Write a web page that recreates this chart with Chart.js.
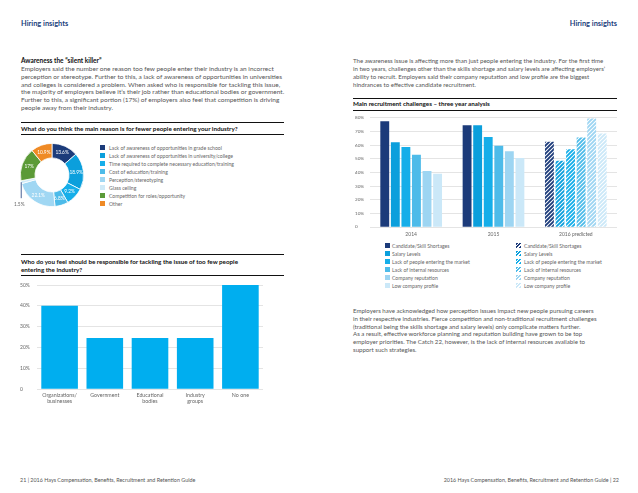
<!DOCTYPE html>
<html>
<head>
<meta charset="utf-8">
<script src="https://cdn.jsdelivr.net/npm/chart.js@4.4.1/dist/chart.umd.min.js"></script>
<style>
    body {
        margin: 0;
        width: 638px;
        height: 493px;
        position: relative;
        overflow: hidden;
        background: #fff;
        font-family: Lato, "Liberation Sans", sans-serif;
        color: #555;
    }
    .abs { position: absolute; white-space: nowrap; }
    .head { font-weight: bold; color: #21417c; font-size: 7.4px; line-height: 10px; }
    .para { font-size: 6.5px; line-height: 7.85px; }
    .para.rt { font-size: 6.1px; }
    .para b { color: #111; }
    .qtitle { font-weight: bold; color: #111; font-size: 6.25px; line-height: 8px; }
    .rule { position: absolute; height: 0; border-top: 1px solid #111; }
    .foot { font-size: 5.4px; line-height: 7px; color: #555; }
    .lg { position: absolute; white-space: nowrap; font-size: 5.1px; line-height: 6px; color: #666; }
    .sw { position: absolute; width: 5px; height: 5px; }
    canvas { position: absolute; }
</style>
</head>
<body>

<div class="abs head" style="left:21px; top:19px;">Hiring insights</div>
<div class="abs head" style="right:21px; top:19px;">Hiring insights</div>

<div class="abs para" style="left:21px; top:57px;">
<b>Awareness the “silent killer”</b><br>
Employers said the number one reason too few people enter their industry is an incorrect<br>
perception or stereotype. Further to this, a lack of awareness of opportunities in universities<br>
and colleges is considered a problem. When asked who is responsible for tackling this issue,<br>
the majority of employers believe it’s their job rather than educational bodies or government.<br>
Further to this, a significant portion (17%) of employers also feel that competition is driving<br>
people away from their industry.
</div>

<div class="rule" style="left:21px; width:263px; top:122px;"></div>
<div class="abs qtitle" style="left:21px; top:125px;">What do you think the main reason is for fewer people entering your industry?</div>
<div class="rule" style="left:21px; width:263px; top:134px;"></div>

<canvas id="reasonChart" width="84" height="84" style="left:10px; top:133px;"></canvas>
<div id="reasonLegend"></div>

<div class="rule" style="left:21px; width:263px; top:254px;"></div>
<div class="abs qtitle" style="left:21px; top:258px;">Who do you feel should be responsible for tackling the issue of too few people<br>entering the industry?</div>
<div class="rule" style="left:21px; width:263px; top:275px;"></div>

<canvas id="responsibleChart" width="246" height="130" style="left:20px; top:279px;"></canvas>

<div class="abs foot" style="left:20px; top:477px;">21 | 2016 Hays Compensation, Benefits, Recruitment and Retention Guide</div>

<div class="abs para rt" style="left:353px; top:57px; line-height:8px;">
The awareness issue is affecting more than just people entering the industry. For the first time<br>
in two years, challenges other than the skills shortage and salary levels are affecting employers’<br>
ability to recruit. Employers said their company reputation and low profile are the biggest<br>
hindrances to effective candidate recruitment.
</div>

<div class="rule" style="left:353px; width:264px; top:98px;"></div>
<div class="abs qtitle" style="left:353px; top:100px;">Main recruitment challenges – three year analysis</div>
<div class="rule" style="left:353px; width:264px; top:110px;"></div>

<canvas id="challengeChart" width="264" height="127" style="left:355px; top:112px;"></canvas>
<div id="challengeLegend"></div>

<div class="abs para rt" style="left:353px; top:306.7px; line-height:7.92px;">
Employers have acknowledged how perception issues impact new people pursuing careers<br>
in their respective industries. Fierce competition and non-traditional recruitment challenges<br>
(traditional being the skills shortage and salary levels) only complicate matters further.<br>
As a result, effective workforce planning and reputation building have grown to be top<br>
employer priorities. The Catch 22, however, is the lack of internal resources available to<br>
support such strategies.
</div>

<div class="abs foot" style="right:19px; top:477px;">2016 Hays Compensation, Benefits, Recruitment and Retention Guide | 22</div>

<script>
// donut: main reason for fewer people entering the industry
const reasonLabels = [
    "Lack of awareness of opportunities in grade school",
    "Lack of awareness of opportunities in university/college",
    "Time required to complete necessary education/training",
    "Cost of education/training",
    "Perception/stereotyping",
    "Glass ceiling",
    "Competition for roles/opportunity",
    "Other"
];
const reasonValues = [13.6, 18.9, 9.2, 6.8, 22.1, 1.5, 17, 10.9];
const reasonColors = [
    "#1c3b7a", "#0b9fdc", "#15aee9", "#4dbbe9",
    "#a0d7f3", "#cfeaf8", "#5b9a37", "#ef8a25"
];

// bars: who should be responsible
const responsibleLabels = [
    ["Organizations/", "businesses"],
    "Government",
    ["Educational", "bodies"],
    ["Industry", "groups"],
    "No one"
];
const responsibleValues = [40, 24.5, 24.5, 24.5, 50];
const responsibleTicks = ["0", "10%", "20%", "30%", "40%", "50%"];

// grouped bars: main recruitment challenges
const yearLabels = ["2014", "2015", "2016 predicted"];
const challengeNames = [
    "Candidate/Skill Shortages",
    "Salary Levels",
    "Lack of people entering the market",
    "Lack of internal resources",
    "Company reputation",
    "Low company profile"
];
const candidateShortages = [77.5, 74.5, 62.5];
const salaryLevels = [62, 74.5, 48.5];
const lackOfPeople = [58.5, 66, 57];
const lackOfInternal = [53, 59.5, 65.5];
const companyReputation = [41, 55.5, 79.5];
const lowProfile = [39, 50.5, 68.5];
const challengeTicks = ["0", "10%", "20%", "30%", "40%", "50%", "60%", "70%", "80%"];
const challengeColors = [
    "#1c3b7a", "#0b9fdc", "#15aee9", "#4dbbe9", "#9dd5f2", "#cbe8f8"
];

const FONT = "Lato, 'Liberation Sans', sans-serif";
const predictedIndex = 2;

function makeHatch(color) {
    const c = document.createElement("canvas");
    c.width = 4;
    c.height = 4;
    const g = c.getContext("2d");
    g.fillStyle = "#ffffff";
    g.fillRect(0, 0, 4, 4);
    g.strokeStyle = color;
    g.lineWidth = 1.9;
    g.beginPath();
    g.moveTo(0, 4); g.lineTo(4, 0);
    g.moveTo(-1, 1); g.lineTo(1, -1);
    g.moveTo(3, 5); g.lineTo(5, 3);
    g.stroke();
    return g.createPattern(c, "repeat");
}

// percentage text in/around each slice
const sliceLabels = {
    id: "sliceLabels",
    afterDatasetsDraw(chart) {
        const ctx = chart.ctx;
        const arcs = chart.getDatasetMeta(0).data;
        ctx.save();
        ctx.font = "4.8px " + FONT;
        ctx.textAlign = "center";
        ctx.textBaseline = "middle";
        arcs.forEach((arc, i) => {
            const text = reasonValues[i] + "%";
            if (reasonValues[i] < 3) {
                const mid = (arc.startAngle + arc.endAngle) / 2;
                const px = arc.x + Math.cos(mid) * arc.outerRadius;
                const py = arc.y + Math.sin(mid) * arc.outerRadius;
                ctx.strokeStyle = "#1c3b7a";
                ctx.lineWidth = 0.8;
                ctx.beginPath();
                ctx.moveTo(px, py);
                ctx.lineTo(px, py + 16);
                ctx.stroke();
                ctx.fillStyle = "#666";
                ctx.fillText(text, px - 2, py + 22);
            } else {
                const pos = arc.tooltipPosition();
                ctx.fillStyle = "#ffffff";
                ctx.fillText(text, pos.x, pos.y);
            }
        });
        ctx.restore();
    }
};

function renderReasonChart() {
    new Chart(document.getElementById("reasonChart").getContext("2d"), {
        type: "doughnut",
        data: {
            labels: reasonLabels,
            datasets: [{
                data: reasonValues,
                backgroundColor: reasonColors,
                borderColor: "#ffffff",
                borderWidth: 0.8
            }]
        },
        options: {
            responsive: false,
            animation: false,
            cutout: "54%",
            layout: { padding: 10 },
            plugins: {
                legend: { display: false },
                tooltip: { enabled: false }
            }
        },
        plugins: [sliceLabels]
    });

    const box = document.getElementById("reasonLegend");
    reasonLabels.forEach((name, i) => {
        const y = 147.7 + i * 8;
        box.innerHTML +=
            `<div class="sw" style="left:100px; top:${y - 2.5}px; background:${reasonColors[i]}"></div>` +
            `<div class="lg" style="left:109px; top:${y - 3}px;">${name}</div>`;
    });
}

function renderResponsibleChart() {
    new Chart(document.getElementById("responsibleChart").getContext("2d"), {
        type: "bar",
        data: {
            labels: responsibleLabels,
            datasets: [{
                data: responsibleValues,
                backgroundColor: "#00aeef",
                categoryPercentage: 0.81,
                barPercentage: 1
            }]
        },
        options: {
            responsive: false,
            animation: false,
            layout: { padding: { top: 6, right: 3 } },
            plugins: {
                legend: { display: false },
                tooltip: { enabled: false }
            },
            scales: {
                x: {
                    grid: { display: false, drawTicks: false },
                    border: { display: false },
                    ticks: {
                        color: "#666",
                        font: { size: 5.3, family: FONT, lineHeight: 1.15 },
                        padding: 3,
                        maxRotation: 0,
                        autoSkip: false
                    },
                    afterFit: s => { s.height = 20; }
                },
                y: {
                    min: 0,
                    max: 50,
                    grid: { color: "#d2d2d2", lineWidth: 0.6, drawTicks: false },
                    border: { display: false },
                    ticks: {
                        stepSize: 10,
                        crossAlign: "far",
                        color: "#666",
                        font: { size: 5, family: FONT },
                        callback: (v, i) => responsibleTicks[i]
                    },
                    afterFit: s => { s.width = 17; }
                }
            }
        }
    });
}

function renderChallengeChart() {
    const series = [
        candidateShortages, salaryLevels, lackOfPeople,
        lackOfInternal, companyReputation, lowProfile
    ];
    const hatches = challengeColors.map(makeHatch);

    new Chart(document.getElementById("challengeChart").getContext("2d"), {
        type: "bar",
        data: {
            labels: yearLabels,
            datasets: series.map((values, k) => ({
                label: challengeNames[k],
                data: values,
                backgroundColor: c =>
                    c.dataIndex === predictedIndex ? hatches[k] : challengeColors[k],
                categoryPercentage: 0.77,
                barPercentage: 0.84
            }))
        },
        options: {
            responsive: false,
            animation: false,
            layout: { padding: { top: 5, right: 2 } },
            plugins: {
                legend: { display: false },
                tooltip: { enabled: false }
            },
            scales: {
                x: {
                    grid: { display: false, drawTicks: false },
                    border: { display: false },
                    ticks: {
                        color: "#666",
                        font: { size: 5, family: FONT },
                        padding: 4,
                        maxRotation: 0
                    },
                    afterFit: s => { s.height = 12; }
                },
                y: {
                    min: 0,
                    max: 80,
                    grid: { color: "#d2d2d2", lineWidth: 0.6, drawTicks: false },
                    border: { display: false },
                    ticks: {
                        stepSize: 10,
                        crossAlign: "far",
                        color: "#666",
                        font: { size: 4.6, family: FONT },
                        callback: (v, i) => challengeTicks[i]
                    },
                    afterFit: s => { s.width = 15; }
                }
            }
        }
    });

    const box = document.getElementById("challengeLegend");
    challengeNames.forEach((name, i) => {
        const y = 245.7 + i * 8;
        const hatch = `repeating-linear-gradient(135deg, ${challengeColors[i]} 0 1.6px, #fff 1.6px 2.6px)`;
        box.innerHTML +=
            `<div class="sw" style="left:385px; top:${y - 2.5}px; background:${challengeColors[i]}"></div>` +
            `<div class="lg" style="left:392px; top:${y - 3}px;">${name}</div>` +
            `<div class="sw" style="left:516px; top:${y - 2.5}px; background:${hatch}"></div>` +
            `<div class="lg" style="left:524px; top:${y - 3}px;">${name}</div>`;
    });
}

renderReasonChart();
renderResponsibleChart();
renderChallengeChart();
</script>
</body>
</html>
